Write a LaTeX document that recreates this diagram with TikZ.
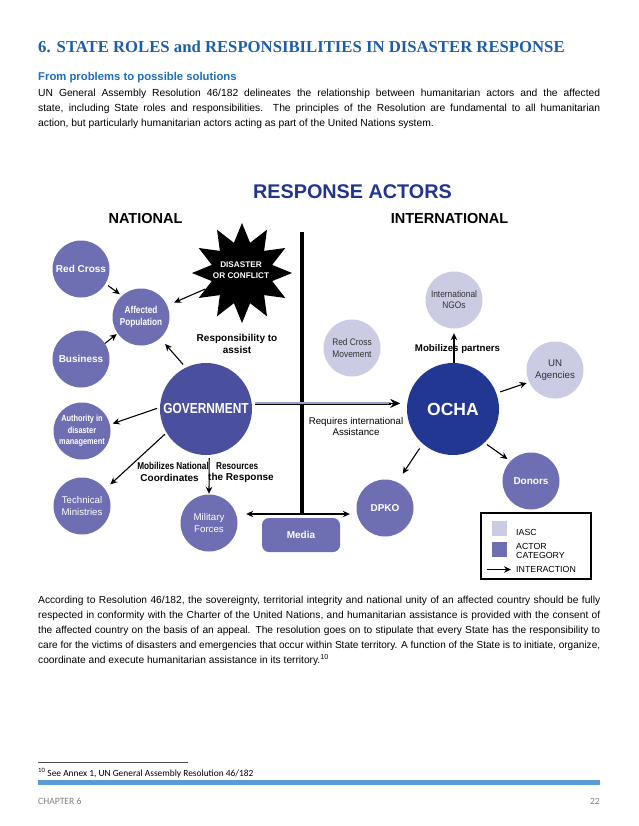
\documentclass[tikz,border=0pt]{standalone}
\usepackage{fontspec}
\usepackage{graphicx}
\setmainfont{Liberation Sans}
\newfontfamily\nar[FakeStretch=0.88]{Liberation Sans}
\newfontfamily\narb[FakeStretch=0.82]{Liberation Sans}
\newfontfamily\serifbf{Liberation Serif}
\newfontfamily\calfont{Carlito}
\usetikzlibrary{arrows.meta,shapes.geometric,calc}
\newcommand\fsz[2]{\fontsize{#1}{#2}\selectfont}
\newlength\jlen
\newcommand\jline[1]{\settowidth\jlen{#1}\ifdim\jlen>562pt\resizebox{562pt}{\height}{#1}\else\makebox[562pt][s]{#1}\fi}
\definecolor{titleblue}{RGB}{28,95,168}
\definecolor{subblue}{RGB}{30,110,185}
\definecolor{navy}{RGB}{33,53,140}
\definecolor{actor}{RGB}{110,110,178}
\definecolor{iasc}{RGB}{203,203,228}
\definecolor{govc}{RGB}{74,80,158}
\definecolor{ochac}{RGB}{34,55,145}
\definecolor{barblue}{RGB}{91,155,213}
\definecolor{darktext}{RGB}{50,50,50}
\definecolor{dblfill}{RGB}{150,160,200}
\tikzset{
  actorc/.style={circle, fill=actor, text=white, minimum size=57pt, inner sep=0pt, align=center},
  iascc/.style={circle, fill=iasc, text=darktext, minimum size=57pt, inner sep=0pt, align=center},
  arr/.style={line width=1.1pt, -{Stealth[length=7pt,width=6.5pt]}},
  txt/.style={inner sep=0pt},
}
\begin{document}
\begin{tikzpicture}[x=1pt,y=-1pt]
\path[use as bounding box, fill=white] (0,0) rectangle (638,826);

% header text
\node[txt, anchor=base west, text=titleblue, font={\serifbf\fsz{16.7}{18}\bfseries}] (title) at (38,53) {6.\hspace{6pt}STATE ROLES and RESPONSIBILITIES IN DISASTER RESPONSE};
\node[txt, anchor=base west, text=subblue, font={\fsz{11.3}{13}\bfseries}] (sub) at (38,81) {From problems to possible solutions};
\node[txt, anchor=base west, font={\fsz{10.3}{12}}] (p1) at (38,96.5) {\jline{UN General Assembly Resolution 46/182 delineates the relationship between humanitarian actors and the affected}};
\node[txt, anchor=base west, font={\fsz{10.3}{12}}] (p2) at (38,111.5) {\jline{state, including State roles and responsibilities.\ \ The principles of the Resolution are fundamental to all humanitarian}};
\node[txt, anchor=base west, font={\fsz{10.3}{12}}] (p3) at (38,126.5) {action, but particularly humanitarian actors acting as part of the United Nations system.};

% diagram headings
\node[txt, text=navy, font={\fsz{19.8}{22}\bfseries}] (ra) at (352.5,192) {RESPONSE ACTORS};
\node[txt, font={\fsz{14.5}{16}\bfseries}] (nat) at (145.5,219) {NATIONAL};
\node[txt, font={\fsz{14.5}{16}\bfseries}] (intl) at (449.5,219) {INTERNATIONAL};

% divider
\coordinate (vtop) at (302,232);
\coordinate (junc) at (302,514);
\draw[line width=3.5pt] (vtop) -- (junc);

% star
\node[star, star points=12, star point ratio=1.6, minimum size=100pt, fill=black, inner sep=0pt] (star) at (242,273) {};
\node[txt, text=white, align=center, font={\fsz{8.2}{11}\bfseries}] (startxt) at (241,270.5) {DISASTER\\OR CONFLICT};

% national actors
\node[actorc, font={\fsz{10}{12}\bfseries}] (rc) at (81,269) {Red Cross};
\node[actorc, font={\narb\fsz{10}{12.5}\bfseries}] (aff) at (141,317) {Affected\\Population};
\node[actorc, font={\fsz{10}{12}\bfseries}] (bus) at (81,359) {Business};
\node[actorc, font={\narb\fsz{9}{11.5}\bfseries}] (auth) at (82,431) {Authority in\\disaster\\management};
\node[actorc, font={\fsz{9.7}{12.5}}] (tech) at (82,506) {Technical\\Ministries};
\node[actorc, fill=govc, minimum size=92pt, font={\narb\fsz{14.5}{16}\bfseries}] (gov) at (206,409) {GOVERNMENT};
\node[actorc, font={\fsz{9.7}{11.5}}] (mil) at (209,523) {Military\\Forces};
\node[fill=actor, rounded corners=7pt, minimum width=78pt, minimum height=34pt, inner sep=0pt, text=white, font={\fsz{10}{12}\bfseries}] (media) at (301,535) {Media};

% international actors
\node[actorc, font={\fsz{10}{12}\bfseries}] (dpko) at (385,508) {DPKO};
\node[iascc, font={\nar\fsz{9.5}{12}}] (rcm) at (352,348) {Red Cross\\Movement};
\node[iascc, font={\nar\fsz{9.5}{11}}] (ngo) at (454,300) {International\\NGOs};
\node[iascc, font={\fsz{9.7}{12.5}}] (un) at (555,370) {UN\\Agencies};
\node[actorc, fill=ochac, minimum size=92pt, font={\fsz{17.5}{18}\bfseries}] (ocha) at (453,409) {OCHA};
\node[actorc, font={\fsz{10}{12}\bfseries}] (don) at (531,481) {Donors};

% labels
\node[txt, align=center, font={\fsz{10}{12}\bfseries}] (resp) at (237,343.5) {Responsibility to\\assist};
\node[txt, anchor=east, font={\narb\fsz{10}{12}\bfseries}] (mobn) at (209,466) {Mobilizes National};
\node[txt, anchor=west, font={\narb\fsz{10}{12}\bfseries}] (res) at (216,466) {Resources};
\node[txt, anchor=east, font={\fsz{10}{12}\bfseries}] (coord) at (199,477.5) {Coordinates};
\node[txt, anchor=west, font={\fsz{10}{12}\bfseries}] (theresp) at (208,477.5) {the Response};
\node[txt, align=center, font={\fsz{9.7}{11.5}}] (req) at (356,426.5) {Requires international\\Assistance};
\node[txt, font={\fsz{9.7}{12}\bfseries}] (mobp) at (457.5,349) {Mobilizes partners};

% connectors
\draw[arr, shorten <=3pt, shorten >=2.5pt] (rc.-31) -- (aff.132);
\draw[arr, shorten >=1pt] (bus.33) -- (aff.215);
\draw[arr, shorten >=7.5pt] ($(star)!40pt!(aff)$) -- (aff);
\draw[arr, shorten <=4pt, shorten >=7.5pt] (gov.116) -- (aff.-48);
\draw[arr, shorten <=3pt, shorten >=3pt] (gov.178) -- (auth.13);
\draw[arr, shorten <=2pt, shorten >=7pt] (gov.211) -- (tech.36);
\draw[arr, shorten <=3pt, shorten >=0.5pt] (gov.-86) -- (mil.90);
\draw[arr, line width=1.5pt, shorten >=8.5pt] (junc) -- (junc -| mil.east);
\draw[arr, line width=1.5pt, shorten >=6.5pt] (junc) -- (junc -| dpko.west);
\draw[draw=black, line width=0.8pt, double=dblfill, double distance=1.8pt, shorten <=3.5pt, shorten >=16pt] (gov.7) -- (ocha.173);
\draw[line width=0.8pt, -{Stealth[length=10pt,width=9pt]}, shorten >=7pt] ($(ocha.173)!18pt!(gov.7)$) -- (ocha.173);
\draw[arr, shorten >=4.5pt] (ocha.north -| ngo.south) -- (ngo.south);
\draw[arr, shorten <=4pt, shorten >=2.5pt] (ocha.20) -- (un.205);
\draw[arr, shorten <=3pt, shorten >=3.5pt] (ocha.-47) -- (don.136);
\draw[arr, shorten <=5.5pt, shorten >=10pt] (ocha.229) -- (dpko.65);

% legend
\node[draw, line width=1.1pt, minimum width=110pt, minimum height=66pt, inner sep=0pt] (leg) at (536,546) {};
\node[fill=iasc, minimum size=15pt, inner sep=0pt] (lsq1) at (499.5,528.5) {};
\node[fill=actor, minimum size=15pt, inner sep=0pt] (lsq2) at (499.5,549.5) {};
\node[txt, anchor=west, font={\fsz{8.8}{9}}] (liasc) at (516,532) {IASC};
\node[txt, anchor=west, align=left, font={\fsz{8.8}{8.5}}] (lactor) at (516,551) {ACTOR\\CATEGORY};
\node[txt, anchor=west, font={\fsz{8.8}{9}}] (lint) at (516,569.5) {INTERACTION};
\coordinate (larr) at (487,569.5);
\draw[arr, shorten >=5pt] (larr) -- (lint.west);

% lower paragraph
\node[txt, anchor=base west, font={\fsz{10.2}{12}}] (q1) at (38,603) {\jline{According to Resolution 46/182, the sovereignty, territorial integrity and national unity of an affected country should be fully}};
\node[txt, anchor=base west, font={\fsz{10.2}{12}}] (q2) at (38,618) {\jline{respected in conformity with the Charter of the United Nations, and humanitarian assistance is provided with the consent of}};
\node[txt, anchor=base west, font={\fsz{10.2}{12}}] (q3) at (38,633) {\jline{the affected country on the basis of an appeal. The resolution goes on to stipulate that every State has the responsibility to}};
\node[txt, anchor=base west, font={\fsz{10.2}{12}}] (q4) at (38,648) {\jline{care for the victims of disasters and emergencies that occur within State territory. A function of the State is to initiate, organize,}};
\node[txt, anchor=base west, font={\fsz{10.2}{12}}] (q5) at (38,663.5) {coordinate and execute humanitarian assistance in its territory.\textsuperscript{10}};

% footer
\coordinate (fnl) at (38,762);
\coordinate (fnr) at (188,762);
\draw[line width=0.6pt, black!70] (fnl) -- (fnr);
\node[txt, anchor=base west, font={\calfont\fsz{9.4}{10}}] (fn) at (38,776) {\textsuperscript{10} See Annex 1, UN General Assembly Resolution 46/182};
\node[fill=barblue, minimum width=562pt, minimum height=5.5pt, inner sep=0pt, anchor=north west] (bar) at (38,779.5) {};
\node[txt, anchor=base west, text=black!50, font={\calfont\fsz{9.6}{10}}] (chap) at (38,804) {CHAPTER 6};
\node[txt, anchor=base east, text=black!50, font={\calfont\fsz{9.6}{10}}] (pg) at (600,804) {22};
\end{tikzpicture}
\end{document}
